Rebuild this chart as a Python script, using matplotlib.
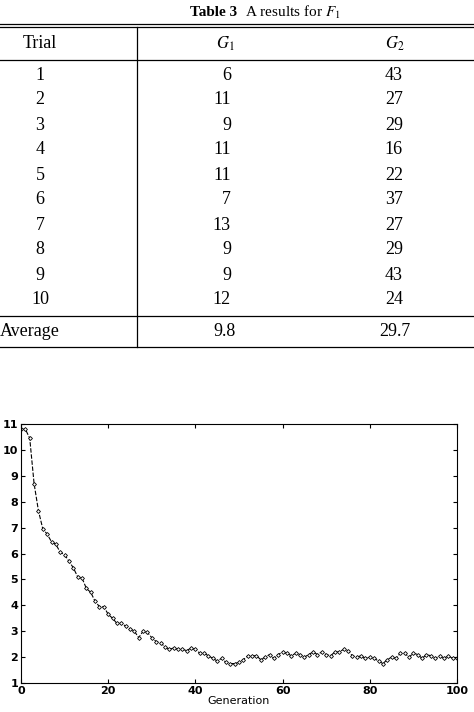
import matplotlib

matplotlib.use("Agg")
import matplotlib.pyplot as plt
import numpy as np

plt.rcParams["mathtext.fontset"] = "stix"

trials = [str(i) for i in range(1, 11)]
g1 = [6, 11, 9, 11, 11, 7, 13, 9, 9, 12]
g2 = [43, 27, 29, 16, 22, 37, 27, 29, 43, 24]
avg_g1 = "9.8"
avg_g2 = "29.7"

generation = list(range(0, 101))
fitness = [
    10.8, 10.8, 10.45, 8.7, 7.65, 6.95, 6.75, 6.45, 6.35, 6.05,
    5.95, 5.7, 5.45, 5.1, 5.05, 4.65, 4.5, 4.15, 3.95, 3.95,
    3.65, 3.5, 3.3, 3.3, 3.2, 3.1, 3.0, 2.75, 3.0, 2.95,
    2.75, 2.6, 2.55, 2.4, 2.3, 2.35, 2.3, 2.3, 2.25, 2.35,
    2.3, 2.15, 2.15, 2.05, 1.95, 1.85, 1.95, 1.8, 1.75, 1.75,
    1.8, 1.9, 2.05, 2.05, 2.05, 1.9, 2.0, 2.1, 1.95, 2.1,
    2.2, 2.15, 2.05, 2.15, 2.1, 2.0, 2.1, 2.2, 2.1, 2.2,
    2.1, 2.05, 2.2, 2.2, 2.3, 2.25, 2.05, 2.0, 2.05, 1.95,
    2.0, 1.95, 1.85, 1.75, 1.9, 2.0, 1.95, 2.15, 2.15, 2.0,
    2.15, 2.1, 1.95, 2.1, 2.05, 1.95, 2.05, 1.95, 2.05, 1.95,
    1.95,
]

W, H = 474, 712
fig = plt.figure(figsize=(W / 100, H / 100), dpi=100)
serif = "Liberation Serif"


def fy(py):
    return 1 - py / H


def fx(px):
    return px / W


# --- table ---
fig.text(fx(237), fy(12), "Table 3", family=serif, weight="bold", fontsize=11, ha="right", va="center")
fig.text(fx(245), fy(12), "A results for $F_1$", family=serif, fontsize=11, ha="left", va="center")

def hline(py, lw=0.9):
    fig.add_artist(plt.Line2D([0, 1], [fy(py), fy(py)], color="black", lw=lw))

hline(24)
hline(27)
hline(60)
hline(316)
hline(347)
fig.add_artist(plt.Line2D([fx(137), fx(137)], [fy(27), fy(347)], color="black", lw=0.9))

cols = [40, 225, 395]
fs = 13
fig.text(fx(cols[0]), fy(44), "Trial", family=serif, fontsize=fs, ha="center", va="center")
fig.text(fx(cols[1]), fy(44), "$G_1$", family=serif, fontsize=fs - 1, ha="center", va="center")
fig.text(fx(cols[2]), fy(44), "$G_2$", family=serif, fontsize=fs - 1, ha="center", va="center")
for i, (t, a, b) in enumerate(zip(trials, g1, g2)):
    y = fy(75 + i * 25)
    fig.text(fx(cols[0]), y, t, family=serif, fontsize=fs, ha="center", va="center")
    fig.text(fx(cols[1] + 6), y, str(a), family=serif, fontsize=fs, ha="right", va="center")
    fig.text(fx(cols[2] + 8), y, str(b), family=serif, fontsize=fs, ha="right", va="center")
fig.text(fx(0), fy(332), "Average", family=serif, fontsize=fs, ha="left", va="center")
fig.text(fx(cols[1]), fy(332), avg_g1, family=serif, fontsize=fs, ha="center", va="center")
fig.text(fx(cols[2]), fy(332), avg_g2, family=serif, fontsize=fs, ha="center", va="center")

# --- plot ---
ax = fig.add_axes([fx(21), fy(683), fx(436), 259 / H])
ax.plot(generation, fitness, color="black", lw=0.8, ls=(0, (4, 1.5)),
        marker="D", markersize=2, markerfacecolor="white", markeredgewidth=0.6)
ax.set_xlim(0, 100)
ax.set_ylim(1, 11)
ax.set_xticks(range(0, 101, 20))
ax.set_yticks(range(1, 12))
ax.tick_params(direction="in", labelsize=8, length=3, pad=2, top=True, right=True)
for lab in ax.get_xticklabels() + ax.get_yticklabels():
    lab.set_fontweight("bold")
ax.set_xlabel("Generation", fontsize=8, labelpad=0)

fig.savefig("out.png", dpi=100)
